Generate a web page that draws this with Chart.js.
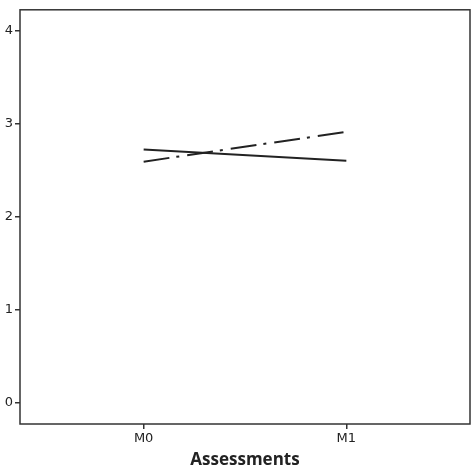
<!DOCTYPE html>
<html>
<head>
<meta charset="utf-8">
<script src="https://cdn.jsdelivr.net/npm/chart.js@4/dist/chart.umd.min.js"></script>
<style>
  html, body { margin: 0; padding: 0; background: #fff; }
  #wrap { width: 474px; height: 474px; }
</style>
</head>
<body>
<div id="wrap"><canvas id="chart"></canvas></div>
<script>
const categories = ['M0', 'M1'];
const solidValues = [2.72, 2.60];
const dashDotValues = [2.59, 2.91];
const yTicks = [0, 1, 2, 3, 4];

const framePlugin = {
    id: 'frame',
    afterDraw(chart) {
        const a = chart.chartArea, ctx = chart.ctx;
        ctx.save();
        ctx.strokeStyle = '#333';
        ctx.lineWidth = 1.5;
        ctx.strokeRect(a.left, a.top, a.right - a.left, a.bottom - a.top);
        ctx.restore();
    }
};

new Chart(document.getElementById('chart'), {
    type: 'line',
    data: {
        datasets: [{
            data: solidValues.map((v, i) => ({ x: i, y: v })),
            borderColor: '#222',
            borderWidth: 2,
            pointRadius: 0,
            fill: false
        }, {
            data: dashDotValues.map((v, i) => ({ x: i, y: v })),
            borderColor: '#222',
            borderWidth: 2,
            borderDash: [26, 7, 3, 8],
            pointRadius: 0,
            fill: false
        }]
    },
    options: {
        responsive: true,
        maintainAspectRatio: false,
        animation: false,
        layout: { padding: { top: 0, right: 4, left: 0, bottom: 0 } },
        plugins: { legend: { display: false }, tooltip: { enabled: false } },
        scales: {
            x: {
                type: 'linear',
                min: -0.61,
                max: 1.61,
                afterBuildTicks: s => { s.ticks = categories.map((c, i) => ({ value: i })); },
                afterFit: s => { s.height = 50; },
                ticks: {
                    callback: v => categories[v],
                    color: '#222',
                    font: { family: 'DejaVu Sans', size: 13 },
                    padding: 2
                },
                grid: { drawOnChartArea: false, tickLength: 5, color: '#333', lineWidth: 1.5 },
                border: { display: false },
                title: {
                    display: true,
                    text: 'Assessments',
                    color: '#222',
                    font: { family: 'Open Sans', size: 17, weight: 'bold' },
                    padding: { top: 6 }
                }
            },
            y: {
                min: -0.226,
                max: 4.22,
                afterBuildTicks: s => { s.ticks = yTicks.map(v => ({ value: v })); },
                afterFit: s => { s.width = 20; },
                ticks: {
                    color: '#222',
                    font: { family: 'DejaVu Sans', size: 13 },
                    padding: 2
                },
                grid: { drawOnChartArea: false, tickLength: 5, color: '#333', lineWidth: 1.5 },
                border: { display: false }
            }
        }
    },
    plugins: [framePlugin]
});
</script>
</body>
</html>
